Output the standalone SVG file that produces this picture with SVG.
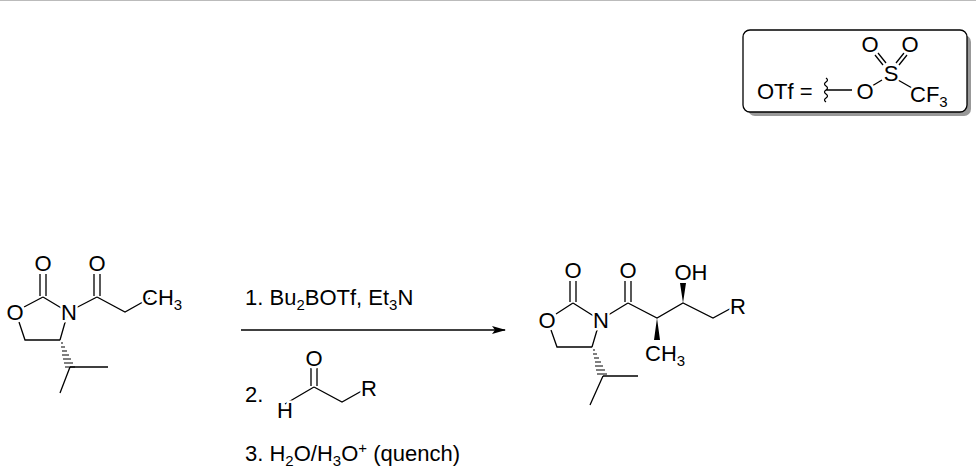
<svg xmlns="http://www.w3.org/2000/svg" width="976" height="476" viewBox="0 0 976 476">
<style>
.b{stroke:#000;stroke-width:1.3;fill:none}
text{font-family:"Liberation Sans",Arial,sans-serif;font-size:22px;fill:#000;paint-order:stroke;stroke:#fff;stroke-width:5px;stroke-linejoin:round}
.c{text-anchor:middle}
</style>
<defs><marker id="ah" markerWidth="14" markerHeight="8" refX="13" refY="4" orient="auto" markerUnits="userSpaceOnUse"><path d="M0,0 L14,4 L0,8 L3,4z" fill="#000"/></marker></defs>
<rect width="976" height="476" fill="#fff"/>
<line x1="0" y1="0.5" x2="976" y2="0.5" stroke="#bbb"/>
<g id="box">
<rect x="748" y="35" width="223" height="81" rx="7" fill="#999"/>
<rect x="743" y="30" width="224" height="82" rx="7" fill="#fff" stroke="#000" stroke-width="1.3"/>
<path class="b" d="M826,78 q3,2 0,4 q-3,2 0,4 q3,2 0,4 q-3,2 0,4 q3,2 0,4 q-3,2 0,4 M826,90 H852 M872,86 L882,80 M898,80 L912,88 M883,65 L875,55 M886,63 L878,53 M896,63 L904,53 M899,65 L907,55"/>
<text x="757" y="99">OTf =</text>
<text x="865" y="99" class="c">O</text>
<text x="891" y="81" class="c">S</text>
<text x="870" y="52" class="c">O</text>
<text x="910" y="52" class="c">O</text>
<text x="910" y="102">CF<tspan font-size="15" dy="5">3</tspan></text>
</g>
<g id="reactant">
<path class="b" d="M40,274 V296 M46,274 V296 M43,297 L24,307 M43,297 L68,312 M19,322 L25,340 H60 M68,312 L60,340 M68,312 L97,297 M94,274 V296 M100,274 V296 M97,297 L125,312 L150,298"/>
<text x="43" y="271" class="c">O</text>
<text x="15" y="320" class="c">O</text>
<text x="69" y="320" class="c">N</text>
<text x="97" y="271" class="c">O</text>
<text x="142" y="305">CH<tspan font-size="15" dy="5">3</tspan></text>
<path stroke="#000" stroke-width="1.2" d="M61,343 h2 M61,347 h4 M62,351 h5 M62,355 h7 M63,359 h8 M64,363 h9 M65,367 h10"/>
<path class="b" d="M70,367 H108 M70,367 L60,393"/>
</g>
<g id="reagents">
<line x1="241" y1="330" x2="505" y2="330" stroke="#000" stroke-width="1.3" marker-end="url(#ah)"/>
<text x="245" y="305">1. Bu<tspan font-size="15" dy="5">2</tspan><tspan dy="-5">BOTf, Et</tspan><tspan font-size="15" dy="5">3</tspan><tspan dy="-5">N</tspan></text>
<text x="245" y="402">2.</text>
<path class="b" d="M311,368 V386 M317,368 V386 M314,387 L285,404 M314,387 L342,402 L367,388"/>
<text x="314" y="366" class="c">O</text>
<text x="285" y="418" class="c">H</text>
<text x="369" y="396" class="c">R</text>
<text x="245" y="461">3. H<tspan font-size="15" dy="5">2</tspan><tspan dy="-5">O/H</tspan><tspan font-size="15" dy="5">3</tspan><tspan dy="-5">O</tspan><tspan font-size="15" dy="-8">+</tspan><tspan dy="8"> (quench)</tspan></text>
</g>
<g id="product">
<path class="b" d="M570,281 V302 M576,281 V302 M573,303 L556,314 M573,303 L600,320 M551,330 L557,347 H592 M600,320 L592,347 M600,320 L628,303 M625,281 V302 M631,281 V302 M628,303 L657,318 L683,303 L713,318 L737,305"/>
<text x="573" y="278" class="c">O</text>
<text x="547" y="328" class="c">O</text>
<text x="601" y="328" class="c">N</text>
<text x="628" y="278" class="c">O</text>
<text x="691" y="280" class="c">OH</text>
<text x="738" y="314" class="c">R</text>
<text x="645" y="361">CH<tspan font-size="15" dy="5">3</tspan></text>
<path fill="#000" d="M657,318 L654,340 L660,340z M683,303 L680,283 L686,283z"/>
<path stroke="#000" stroke-width="1.2" d="M593,350 h2 M593,354 h4 M594,358 h5 M595,362 h6 M595,366 h8 M596,370 h9 M597,374 h10"/>
<path class="b" d="M603,376 H638 M603,376 L590,405"/>
</g>
</svg>
